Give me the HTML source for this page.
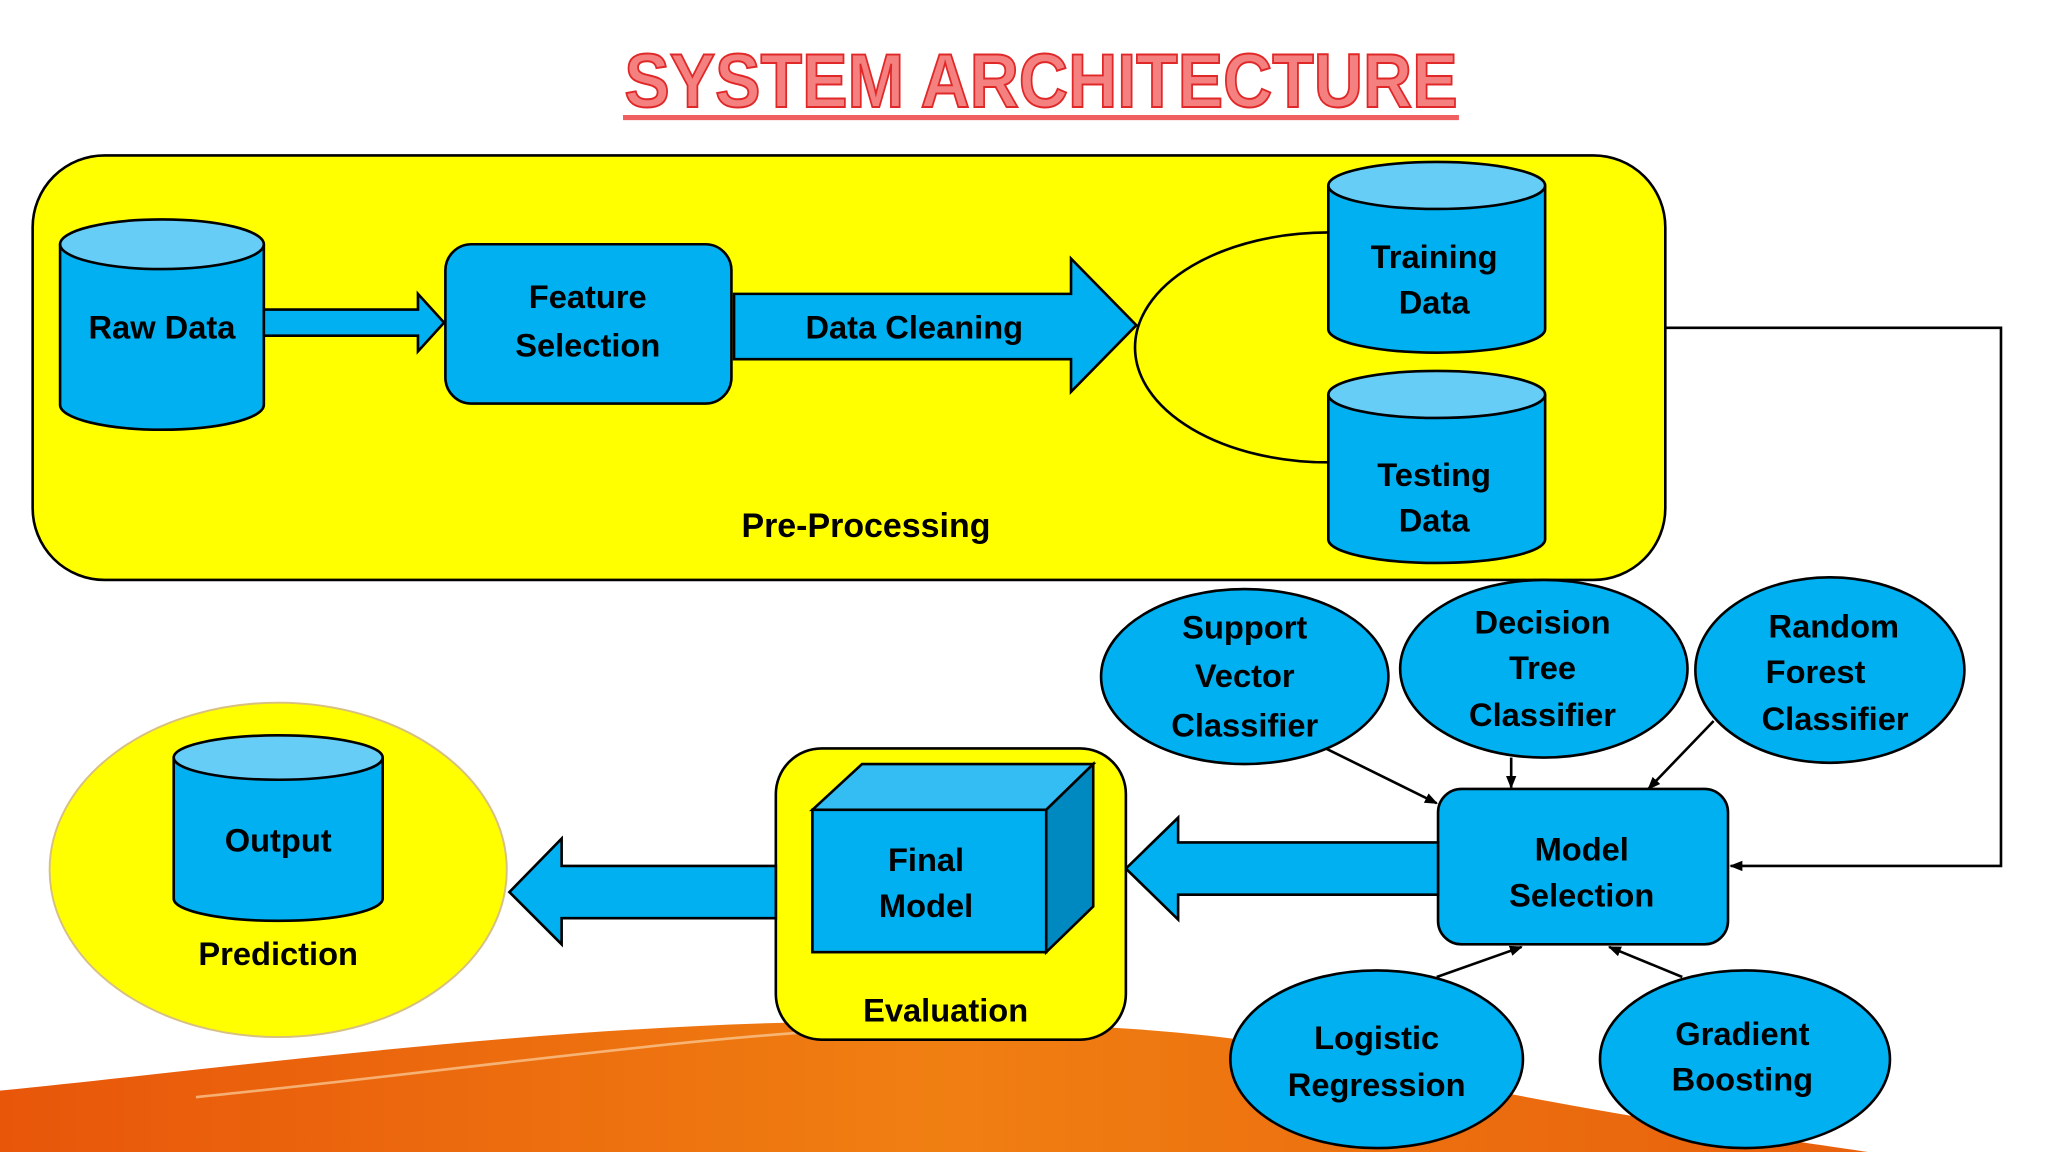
<!DOCTYPE html>
<html><head><meta charset="utf-8"><style>html,body{margin:0;padding:0;background:#fff}svg{display:block}text{font-family:"Liberation Sans",sans-serif;font-weight:bold;fill:#000;text-anchor:middle}</style></head><body>
<svg width="2048" height="1152" viewBox="0 0 1568 882" preserveAspectRatio="none" xmlns="http://www.w3.org/2000/svg">
<defs>
<linearGradient id="og" x1="0" y1="0" x2="1" y2="0"><stop offset="0" stop-color="#e8560a"/><stop offset="0.5" stop-color="#f07f12"/><stop offset="1" stop-color="#e8600c"/></linearGradient>
<marker id="ah" markerWidth="10" markerHeight="10" refX="9" refY="5" orient="auto" markerUnits="userSpaceOnUse"><path d="M0,1 L10,5 L0,9 z" fill="#000"/></marker>
</defs>
<path d="M0,835 C200,815 450,780 700,782 C850,784 950,790 1050,815 C1200,850 1350,870 1430,882 L0,882 Z" fill="url(#og)"/>
<path d="M150,840 C350,820 550,790 700,786" stroke="#fbd0a0" stroke-width="2" fill="none" opacity="0.7"/>
<text x="797" y="82" font-size="58" textLength="638" lengthAdjust="spacingAndGlyphs" stroke="#e02828" stroke-width="1.5" style="fill:#f58080">SYSTEM ARCHITECTURE</text>
<line x1="477" y1="90" x2="1117" y2="90" stroke="#f06060" stroke-width="4"/>
<rect x="25" y="119" width="1250" height="325" rx="55" fill="#ffff00" stroke="#000" stroke-width="2"/>
<path d="M46,187 V310 A78,19 0 0 0 202,310 V187" fill="#00b0f0" stroke="#000" stroke-width="2"/>
<ellipse cx="124" cy="187" rx="78" ry="19" fill="#66cdf7" stroke="#000" stroke-width="2"/>
<text x="124" y="259" font-size="25">Raw Data</text>
<path d="M202,237 H320 V225 L340,247 L320,269 V257 H202 Z" fill="#00b0f0" stroke="#000" stroke-width="2"/>
<rect x="341" y="187" width="219" height="122" rx="20" fill="#00b0f0" stroke="#000" stroke-width="2"/>
<text x="450" y="236" font-size="25">Feature</text><text x="450" y="273" font-size="25">Selection</text>
<path d="M562,225 H820 V198 L870,249 L820,300 V275 H562 Z" fill="#00b0f0" stroke="#000" stroke-width="2"/>
<text x="700" y="259" font-size="25">Data Cleaning</text>
<path d="M1017,178 A148,88 0 0 0 1017,354" fill="none" stroke="#000" stroke-width="2"/>
<path d="M1017,142 V252 A83,18 0 0 0 1183,252 V142" fill="#00b0f0" stroke="#000" stroke-width="2"/>
<ellipse cx="1100" cy="142" rx="83" ry="18" fill="#66cdf7" stroke="#000" stroke-width="2"/>
<text x="1098" y="205" font-size="25">Training</text><text x="1098" y="240" font-size="25">Data</text>
<path d="M1017,302 V413 A83,18 0 0 0 1183,413 V302" fill="#00b0f0" stroke="#000" stroke-width="2"/>
<ellipse cx="1100" cy="302" rx="83" ry="18" fill="#66cdf7" stroke="#000" stroke-width="2"/>
<text x="1098" y="372" font-size="25">Testing</text><text x="1098" y="407" font-size="25">Data</text>
<text x="663" y="411" font-size="26">Pre-Processing</text>
<polyline points="1275,251 1532,251 1532,663 1325,663" fill="none" stroke="#000" stroke-width="2" marker-end="url(#ah)"/>
<g fill="#00b0f0" stroke="#000" stroke-width="2">
<ellipse cx="953" cy="518" rx="110" ry="67"/>
<ellipse cx="1182" cy="512" rx="110" ry="68"/>
<ellipse cx="1401" cy="513" rx="103" ry="71"/>
<ellipse cx="1054" cy="811" rx="112" ry="68"/>
<ellipse cx="1336" cy="811" rx="111" ry="68"/>
<rect x="1101" y="604" width="222" height="119" rx="18"/>
</g>
<text x="953" y="489" font-size="25">Support</text><text x="953" y="526" font-size="25">Vector</text><text x="953" y="564" font-size="25">Classifier</text>
<text x="1181" y="485" font-size="25">Decision</text><text x="1181" y="520" font-size="25">Tree</text><text x="1181" y="556" font-size="25">Classifier</text>
<text x="1404" y="488" font-size="25">Random</text><text x="1390" y="523" font-size="25">Forest</text><text x="1405" y="559" font-size="25">Classifier</text>
<text x="1054" y="803" font-size="25">Logistic</text><text x="1054" y="839" font-size="25">Regression</text>
<text x="1334" y="800" font-size="25">Gradient</text><text x="1334" y="835" font-size="25">Boosting</text>
<text x="1211" y="659" font-size="25">Model</text><text x="1211" y="694" font-size="25">Selection</text>
<g stroke="#000" stroke-width="2" marker-end="url(#ah)">
<line x1="1015" y1="573" x2="1100" y2="615"/>
<line x1="1157" y1="580" x2="1157" y2="603"/>
<line x1="1312" y1="552" x2="1262" y2="604"/>
<line x1="1100" y1="748" x2="1165" y2="725"/>
<line x1="1288" y1="748" x2="1232" y2="725"/>
</g>
<path d="M1101,645 H902 V626 L862,665 L902,704 V685 H1101 Z" fill="#00b0f0" stroke="#000" stroke-width="2"/>
<rect x="594" y="573" width="268" height="223" rx="35" fill="#ffff00" stroke="#000" stroke-width="2"/>
<path d="M622,620 L660,585 L837,585 L801,620 Z" fill="#33bdf2" stroke="#000" stroke-width="2"/>
<path d="M801,620 L837,585 L837,694 L801,729 Z" fill="#0088c0" stroke="#000" stroke-width="2"/>
<rect x="622" y="620" width="179" height="109" fill="#00b0f0" stroke="#000" stroke-width="2"/>
<text x="709" y="667" font-size="25">Final</text><text x="709" y="702" font-size="25">Model</text>
<text x="724" y="782" font-size="25">Evaluation</text>
<path d="M594,663 H430 V642 L390,683 L430,723 V703 H594 Z" fill="#00b0f0" stroke="#000" stroke-width="2"/>
<ellipse cx="213" cy="666" rx="175" ry="128" fill="#ffff00" stroke="#d8c080" stroke-width="1.5"/>
<path d="M133,580 V688 A80,17 0 0 0 293,688 V580" fill="#00b0f0" stroke="#000" stroke-width="2"/>
<ellipse cx="213" cy="580" rx="80" ry="17" fill="#66cdf7" stroke="#000" stroke-width="2"/>
<text x="213" y="652" font-size="25">Output</text>
<text x="213" y="739" font-size="25">Prediction</text>
</svg>
</body></html>
